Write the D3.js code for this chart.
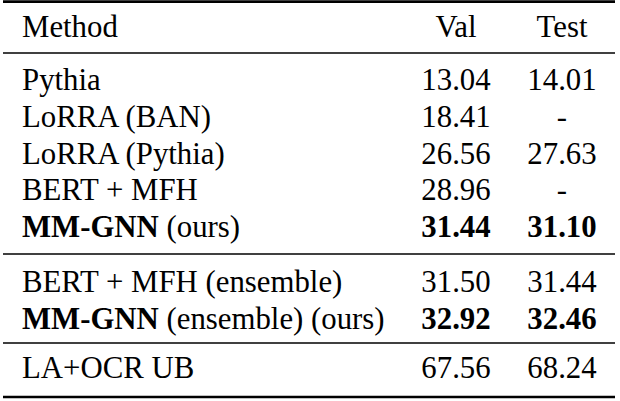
<!DOCTYPE html>
<html>
<head>
<meta charset="utf-8">
<script src="https://cdn.jsdelivr.net/npm/d3@7"></script>
<style>
  html, body { margin: 0; padding: 0; background: #fff; }
  text { font-family: "Liberation Serif", "DejaVu Serif", serif; font-size: 30.8px; fill: #000; }
</style>
</head>
<body>
<svg id="vis"></svg>
<script>
// table content
var headers = ["Method", "Val", "Test"];
var methodBold = ["", "", "", "", "MM-GNN", "", "MM-GNN", ""];
var methodRest = ["Pythia", "LoRRA (BAN)", "LoRRA (Pythia)", "BERT + MFH", " (ours)",
                  "BERT + MFH (ensemble)", " (ensemble) (ours)", "LA+OCR UB"];
var valScores = ["13.04", "18.41", "26.56", "28.96", "31.44", "31.50", "32.92", "67.56"];
var testScores = ["14.01", "-", "27.63", "-", "31.10", "31.44", "32.46", "68.24"];
var boldScore = [false, false, false, false, true, false, true, false];
var groups = [0, 0, 0, 0, 0, 1, 1, 2];

const WIDTH = 620;
const HEIGHT = 401;
const PITCH = 36.8;

let svg = d3.select("#vis")
    .attr("width", WIDTH)
    .attr("height", HEIGHT);

// column positions
let xCol = d3.scaleOrdinal()
    .domain(["Method", "Val", "Test"])
    .range([22, 456, 562]);

// row baselines: row index inside group -> y
let groupStart = [90, 292, 378];
let groupIndex = [];
var counts = [0, 0, 0];
for (var i = 0; i < groups.length; i++) {
    groupIndex[i] = counts[groups[i]];
    counts[groups[i]]++;
}
let yRow = d3.scaleLinear().domain([0, 1]).range([0, PITCH]);
function rowY(i) { return groupStart[groups[i]] + yRow(groupIndex[i]); }

// rules
var rules = [
    {y: 1.6, w: 2.6},
    {y: 53, w: 1.5},
    {y: 254, w: 1.5},
    {y: 343, w: 1.5},
    {y: 397, w: 2.6}
];
svg.selectAll("line.rule")
    .data(rules)
    .enter()
    .append("line")
    .attr("class", "rule")
    .attr("x1", 3)
    .attr("x2", 615)
    .attr("y1", function(d) { return d.y; })
    .attr("y2", function(d) { return d.y; })
    .style("stroke", "#000")
    .style("stroke-width", function(d) { return d.w; });

// header
svg.selectAll("text.head")
    .data(headers)
    .enter()
    .append("text")
    .attr("class", "head")
    .attr("x", function(d) { return xCol(d); })
    .attr("y", 37)
    .style("text-anchor", function(d) { return d === "Method" ? "start" : "middle"; })
    .text(function(d) { return d; });

// method column
let rows = d3.range(methodRest.length);
let mt = svg.selectAll("text.method")
    .data(rows)
    .enter()
    .append("text")
    .attr("class", "method")
    .attr("x", xCol("Method"))
    .attr("y", function(i) { return rowY(i); });
mt.append("tspan")
    .style("font-weight", "bold")
    .text(function(i) { return methodBold[i]; });
mt.append("tspan")
    .style("white-space", "pre")
    .attr("xml:space", "preserve")
    .text(function(i) { return methodRest[i]; });

// score columns
[["Val", valScores], ["Test", testScores]].forEach(function(c) {
    svg.selectAll("text.s" + c[0])
        .data(rows)
        .enter()
        .append("text")
        .attr("class", "s" + c[0])
        .attr("x", xCol(c[0]))
        .attr("y", function(i) { return rowY(i); })
        .style("text-anchor", "middle")
        .style("font-weight", function(i) { return boldScore[i] ? "bold" : "normal"; })
        .text(function(i) { return c[1][i]; });
});
</script>
</body>
</html>
